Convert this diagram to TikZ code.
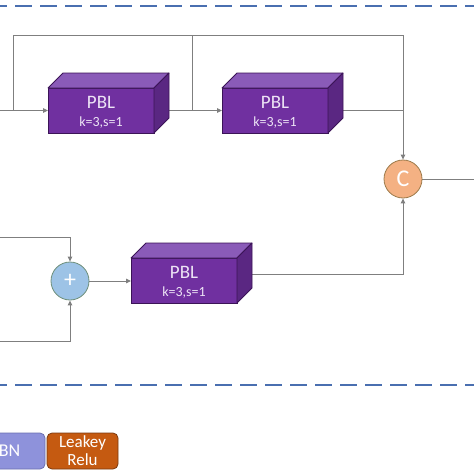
\documentclass[tikz,border=0pt]{standalone}
\usepackage{fontspec}
\setmainfont{Carlito}
\usetikzlibrary{arrows.meta,calc,backgrounds}

\definecolor{pblfront}{HTML}{7030A0}
\definecolor{pbltop}{HTML}{8A5BB8}
\definecolor{pblside}{HTML}{5A2782}
\definecolor{pbledge}{HTML}{3B1457}
\definecolor{pbltext}{HTML}{EDE4F5}
\definecolor{plusfill}{HTML}{9DC3E6}
\definecolor{plusedge}{HTML}{6E8F7A}
\definecolor{catfill}{HTML}{F4B183}
\definecolor{catedge}{HTML}{9C7A4A}
\definecolor{bnfill}{HTML}{8E92DB}
\definecolor{bnedge}{HTML}{6A6FB0}
\definecolor{relufill}{HTML}{C55A11}
\definecolor{reluedge}{HTML}{7A3A10}
\definecolor{linegray}{HTML}{7F7F7F}
\definecolor{sepblue}{HTML}{4A6FB0}

\tikzset{
  conn/.style={draw=linegray, line width=0.9pt},
  tip/.style={-{Triangle[length=5pt,width=4.5pt]}},
  pbl/.style={rectangle, draw=pbledge, line width=0.8pt, fill=pblfront,
    minimum width=106pt, minimum height=45pt, inner sep=0pt, outer sep=0pt,
    text=pbltext, align=center, font=\fontsize{19}{19}\selectfont},
  face/.style={draw=pbledge, line width=0.8pt, line join=round},
  op/.style={circle, minimum size=38pt, inner sep=0pt, line width=0.8pt,
    text=white, font=\fontsize{24}{24}\selectfont},
  legend/.style={rectangle, rounded corners=5pt, minimum width=71pt,
    minimum height=36pt, inner sep=0pt, line width=0.8pt, text=white,
    align=center, font=\fontsize{18}{18}\selectfont},
  sep/.style={draw=sepblue, line width=1.6pt, dash pattern=on 17pt off 8pt,
    dash phase=10pt},
}

% front face as a node, top and side faces drawn on it
\newcommand{\pblblock}[2]{%
  \node[pbl] (#1) at (#2) {};
  \node[text=pbltext, align=center, inner sep=0pt, font=\fontsize{19}{19}\selectfont]
    (#1-txt) at ($(#1.center)+(0,1.5)$) {PBL\\[-1pt]{\fontsize{14}{14}\selectfont k=3,s=1}};
  \draw[face, fill=pbltop] (#1.north west) -- ++(15,-15) -- ++(106,0) -- (#1.north east) -- cycle;
  \draw[face, fill=pblside] (#1.north east) -- ++(15,-15) -- ++(0,45) -- (#1.south east) -- cycle;
}

\begin{document}
\begin{tikzpicture}[x=1pt,y=-1pt]
\useasboundingbox (0,0) rectangle (474,474);

% separators
\draw[sep] (0,6) -- (474,6);
\draw[sep] (0,385) -- (474,385);

% blocks
\pblblock{pa}{101,110.5}
\pblblock{pb}{275,110.5}
\pblblock{pc}{184,280.5}
\node[op, draw=plusedge, fill=plusfill] (add) at (70,281) {+};
\node[op, draw=catedge, fill=catfill] (cat) at (403,179) {C};

% free ends
\coordinate (in1) at (0,110.5);
\coordinate (in2) at (0,237);
\coordinate (in3) at (0,341);
\coordinate (out) at (474,179);
\coordinate (sa) at (13,110.5);
\coordinate (sb) at (192,110.5);

% connectors
\begin{scope}[on background layer]
\draw[conn, tip] (in1) -- (pa.west);
\draw[conn, tip] (pa.east) -- (pb.west);
\draw[conn, tip] (sa) -- (13,35) -| (cat.north);
\draw[conn] (sb) -- (192,35);
\draw[conn] (pb.east) -- (pb.east -| cat);
\draw[conn, tip] (in2) -| (add.north);
\draw[conn, tip] (in3) -| (add.south);
\draw[conn, tip] (add.east) -- (add.east -| pc.west);
\draw[conn, tip] ($(pc.east)+(0,-6)$) -| (cat.south);
\draw[conn] (cat.east) -- (out);
\end{scope}

% legend
\node[legend, draw=bnedge, fill=bnfill] (bn) at (9.5,451) {BN};
\node[legend, draw=reluedge, fill=relufill, font=\fontsize{17}{18}\selectfont] (relu) at (82.5,451) {Leakey\\Relu};
\end{tikzpicture}
\end{document}
